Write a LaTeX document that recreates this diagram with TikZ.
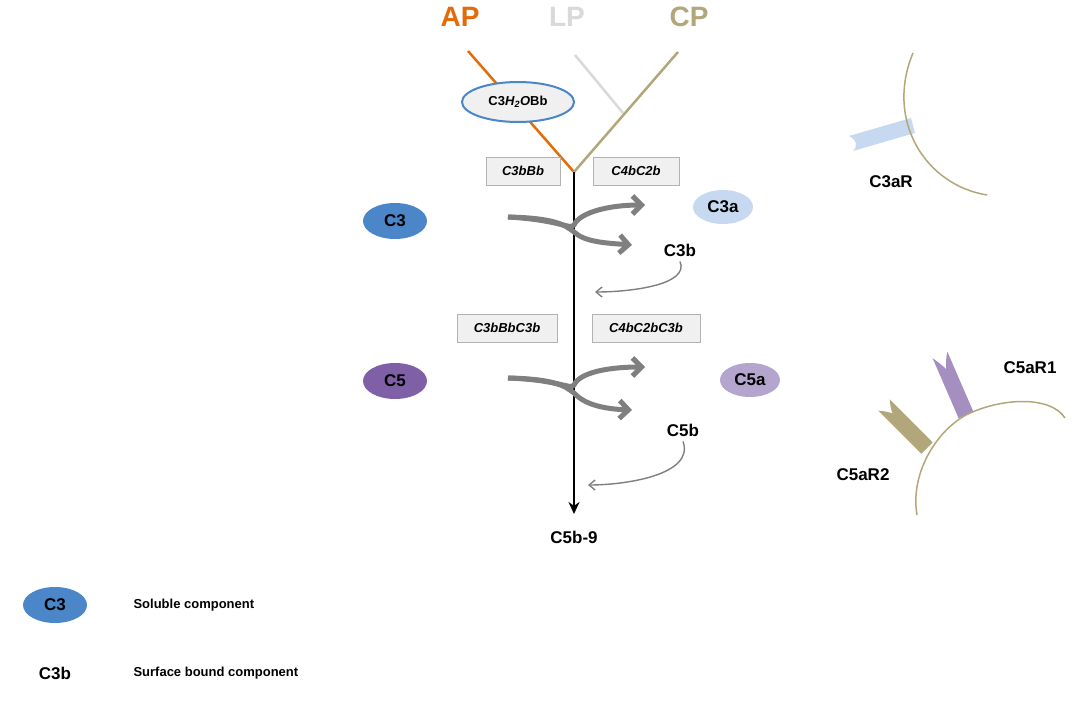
\documentclass[tikz,border=0pt]{standalone}
\usepackage{fontspec}
\setmainfont{Liberation Sans}
\usetikzlibrary{arrows.meta,shapes.geometric}
\definecolor{apc}{HTML}{E36C0A}
\definecolor{lpc}{HTML}{D9D9D9}
\definecolor{cpc}{HTML}{B2A77A}
\definecolor{c3c}{HTML}{4A86C8}
\definecolor{c3ac}{HTML}{C6D9F1}
\definecolor{c5c}{HTML}{7F5FA6}
\definecolor{c5ac}{HTML}{B4A5CF}
\definecolor{arrg}{HTML}{7F7F7F}
\tikzset{
 path title/.style={font=\fontsize{28}{30}\selectfont\bfseries},
 sol/.style={ellipse,minimum width=64pt,minimum height=36pt,inner sep=0pt,font=\fontsize{17}{19}\selectfont\bfseries},
 surf/.style={fill=white,inner sep=5pt,font=\fontsize{17}{19}\selectfont\bfseries},
 conv/.style={draw=gray!60,fill=gray!12,minimum height=28pt,inner sep=4pt,font=\fontsize{13}{15}\selectfont\bfseries\itshape},
 big/.style={draw=arrg,line width=5pt,-{Straight Barb[length=9pt,width=18pt,line width=5pt]}},
 thin/.style={draw=arrg,line width=1.4pt,-{Straight Barb[length=6pt,width=10pt]}},
 legend/.style={anchor=west,font=\fontsize{13}{15}\selectfont\bfseries},
 rlab/.style={font=\fontsize{17}{19}\selectfont\bfseries},
 membrane/.style={draw=cpc,line width=1.5pt},
}
\begin{document}
\begin{tikzpicture}[x=1pt,y=-1pt]
\useasboundingbox (0,0) rectangle (1072,722);
% pathway titles
\node[path title,text=apc] (ap) at (460,17) {AP};
\node[path title,text=lpc] (lp) at (567,17) {LP};
\node[path title,text=cpc] (cp) at (689,17) {CP};
\coordinate (apS) at (468,51);
\coordinate (lpS) at (575,55);
\coordinate (cpS) at (678,52);
\coordinate (lpE) at (623,113);
\coordinate (J) at (574,172);
\coordinate (E) at (574,514);
\draw[apc,line width=2.5pt] (apS) -- (J);
\draw[lpc,line width=2.5pt] (lpS) -- (lpE);
\draw[cpc,line width=2.5pt] (cpS) -- (J);
\node[ellipse,draw=c3c,line width=2pt,fill=gray!12,minimum width=112pt,minimum height=40pt,inner sep=0pt,font=\fontsize{13}{15}\selectfont\bfseries] (h2o) at (518,102) {C3\textit{H\textsubscript{2}O}Bb};
\node[conv,minimum width=74pt] (c3conv) at (523,171) {C3bBb};
\node[conv,minimum width=86pt] (c4conv) at (636,171) {C4bC2b};
\draw[black,line width=2.5pt,-{Stealth[length=12pt,width=11pt]}] (J) -- (E);
% C3 step
\node[sol,fill=c3c] (c3) at (395,221) {C3};
\node[sol,fill=c3ac,minimum width=60pt,minimum height=34pt] (c3a) at (723,207) {C3a};
\node[surf] (c3b) at (680,250) {C3b};
\coordinate (s1) at (508,217);
\coordinate (t1a) at (645,205);
\coordinate (t1b) at (632,245);
\draw[big] (s1) .. controls (560,220) and (570,230) .. (574,225) .. controls (580,212) and (610,205) .. (t1a);
\draw[big] (s1) .. controls (555,218) and (565,225) .. (574,232) .. controls (585,242) and (605,243) .. (t1b);
\draw[thin] (c3b.south) .. controls (690,285) and (630,292) .. (595,292);
% C5 step
\node[conv,minimum width=100pt] (c3conv2) at (507,328) {C3bBbC3b};
\node[conv,minimum width=108pt] (c4conv2) at (646,328) {C4bC2bC3b};
\node[sol,fill=c5c] (c5) at (395,381) {C5};
\node[sol,fill=c5ac,minimum width=60pt,minimum height=34pt] (c5a) at (750,380) {C5a};
\node[surf] (c5b) at (683,430) {C5b};
\coordinate (s2) at (508,378);
\coordinate (t2a) at (645,367);
\coordinate (t2b) at (632,410);
\draw[big] (s2) .. controls (560,380) and (570,390) .. (574,385) .. controls (580,372) and (610,367) .. (t2a);
\draw[big] (s2) .. controls (555,379) and (565,386) .. (574,393) .. controls (585,405) and (605,409) .. (t2b);
\draw[thin] (c5b.south) .. controls (695,475) and (625,485) .. (588,485);
\node[surf] (mac) at (574,537) {C5b-9};
% C3a receptor
\fill[c3ac] (849,136) -- (911,118) -- (915,133) -- (853,151) .. controls (858,146) and (857,140) .. cycle;
\draw[membrane] (913,53) .. controls (885,120) and (925,185) .. (987,195);
\node[rlab] (c3ar) at (891,182) {C3aR};
% C5a receptors
\fill[c5c!70] (958.6,418.2) -- (932.6,358.2) .. controls (938,362) and (943,366) .. (946,369) .. controls (946,362) and (946,357) .. (947.4,351.8) -- (973.4,411.8) -- cycle;
\fill[cpc] (921.3,453.7) -- (878.3,410.7) .. controls (884,411) and (889,412) .. (892.5,413.5) .. controls (891,409) and (890,404) .. (889.7,399.3) -- (932.7,442.3) -- cycle;
\draw[membrane] (917,515) .. controls (910,475) and (935,432) .. (966,415) .. controls (1000,398) and (1050,395) .. (1065,418);
\node[rlab] (c5ar1) at (1030,368) {C5aR1};
\node[rlab] (c5ar2) at (863,475) {C5aR2};
% legend
\node[sol,fill=c3c] (lc3) at (55,605) {C3};
\node[legend] (l1) at (130,605) {Soluble component};
\node[surf] (lc3b) at (55,673) {C3b};
\node[legend] (l2) at (130,673) {Surface bound component};
\end{tikzpicture}
\end{document}
